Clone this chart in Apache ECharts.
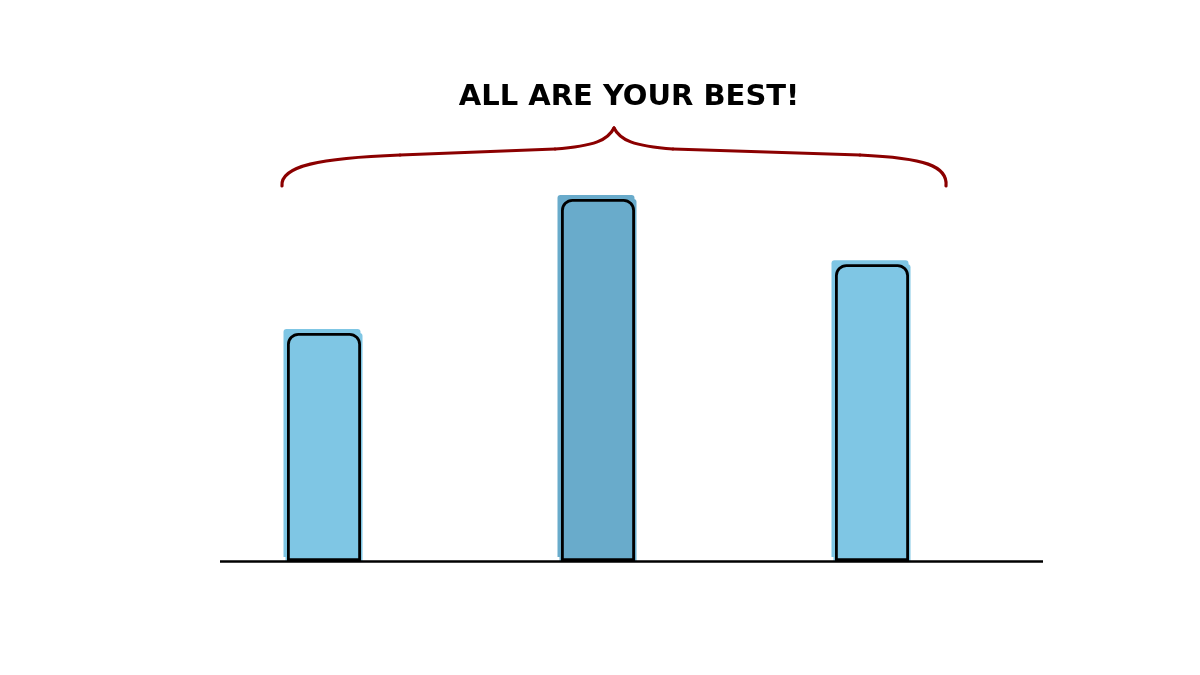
<!DOCTYPE html>
<html>
<head>
<meta charset="utf-8">
<script src="https://cdn.jsdelivr.net/npm/echarts@6/dist/echarts.min.js"></script>
<style>html,body{margin:0;padding:0;background:#fff}#c{width:1200px;height:675px}</style>
</head>
<body>
<div id="c"></div>
<script>
const categories = ['A', 'B', 'C'];
const values = [63, 100, 82];
const fillColors = ['#7fc6e4', '#69abcb', '#7fc6e4'];
const titleText = 'ALL ARE YOUR BEST!';

const braceStyle = {stroke: '#8b0000', lineWidth: 3.2, fill: null, lineCap: 'round'};
function bez(x1, y1, cpx1, cpy1, cpx2, cpy2, x2, y2) {
  return {type: 'bezierCurve', z: 10, shape: {x1, y1, cpx1, cpy1, cpx2, cpy2, x2, y2}, style: braceStyle};
}
function seg(x1, y1, x2, y2) {
  return {type: 'line', z: 10, shape: {x1, y1, x2, y2}, style: braceStyle};
}

const chart = echarts.init(document.getElementById('c'), null, {renderer: 'canvas'});
const option = {
  backgroundColor: '#ffffff',
  animation: false,
  grid: {left: 187, right: 191, top: 199, bottom: 114},
  xAxis: [
    {type: 'category', data: categories, show: false},
    {type: 'category', data: categories, show: false, position: 'bottom'}
  ],
  yAxis: {type: 'value', min: 0, max: 100, show: false},
  series: [
    {
      type: 'bar', xAxisIndex: 0, barWidth: 77,
      data: values.map((v, i) => ({value: v, itemStyle: {color: fillColors[i], shadowColor: fillColors[i]}})),
      itemStyle: {borderRadius: [3, 3, 0, 0], shadowBlur: 0, shadowOffsetX: -2, shadowOffsetY: -4},
      z: 2
    },
    {
      type: 'bar', xAxisIndex: 1, barWidth: 74,
      data: values,
      itemStyle: {color: 'rgba(0,0,0,0)', borderColor: '#000', borderWidth: 2.8, borderRadius: [10, 10, 0, 0]},
      z: 3
    }
  ],
  graphic: [
    {
      type: 'line', z: 10,
      shape: {x1: 220, y1: 561.5, x2: 1043, y2: 561.5},
      style: {stroke: '#000', lineWidth: 2.5}
    },
    bez(282, 186, 280, 166, 320, 158, 400, 155),
    seg(400, 155, 555, 149),
    bez(555, 149, 595, 146, 608, 140, 614, 128),
    bez(614, 128, 620, 140, 633, 146, 673, 149),
    seg(673, 149, 860, 155),
    bez(860, 155, 925, 158, 948, 166, 946, 186),
    {
      type: 'text', z: 10, x: 629, y: 97,
      style: {text: titleText, fill: '#000', font: 'bold 29px "DejaVu Sans"', textAlign: 'center', textVerticalAlign: 'middle'}
    }
  ]
};
chart.setOption(option);
</script>
</body>
</html>
